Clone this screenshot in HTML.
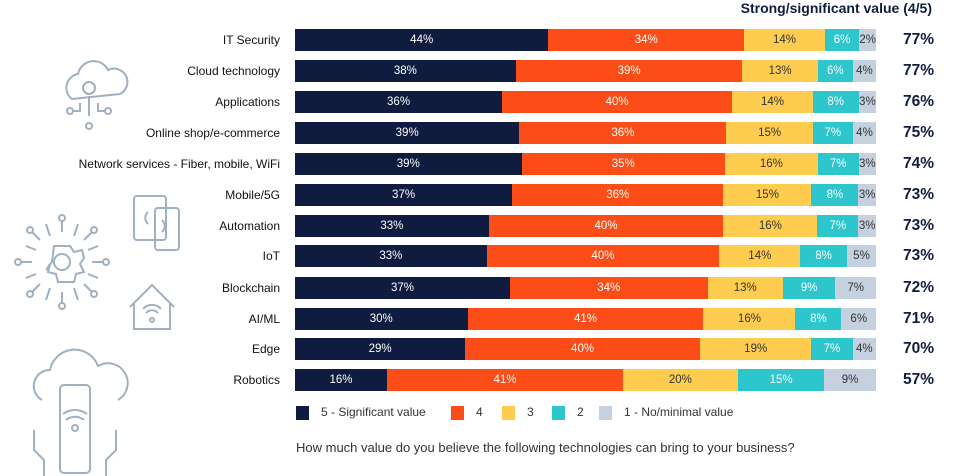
<!DOCTYPE html>
<html><head><meta charset="utf-8"><style>
body{margin:0;width:980px;height:476px;background:#fff;font-family:"Liberation Sans",sans-serif;position:relative;overflow:hidden}
.lbl{position:absolute;right:700px;font-size:12px;color:#111;text-align:right;white-space:nowrap}
.bar{position:absolute;left:295px;width:581px;height:22px;display:flex}
.bar div{height:22px;line-height:22px;text-align:center;font-size:11.5px;color:#fff;overflow:visible;white-space:nowrap}
.a{background:#0f1c3f}.b{background:#fc4c17}.c{background:#fecd4f;color:#333!important}.d{background:#2cc6cc}.e{background:#c5d1de;color:#333!important}
.tot{position:absolute;left:894px;width:40px;text-align:right;font-weight:bold;font-size:15.5px;color:#0f1c3f}
.lg{position:absolute;top:406px;width:13px;height:14px}
.lt{position:absolute;top:405px;font-size:12px;color:#333}
</style></head><body>
<div style="position:absolute;right:48px;top:0px;font-weight:bold;font-size:14px;color:#0f1c3f">Strong/significant value (4/5)</div>

<div class="lbl" style="top:33px">IT Security</div>
<div class="bar" style="top:29px"><div class="a" style="flex:44">44%</div><div class="b" style="flex:34">34%</div><div class="c" style="flex:14">14%</div><div class="d" style="flex:6">6%</div><div class="e" style="flex:2">2%</div></div>
<div class="tot" style="top:31px">77%</div>

<div class="lbl" style="top:64px">Cloud technology</div>
<div class="bar" style="top:60px"><div class="a" style="flex:38">38%</div><div class="b" style="flex:39">39%</div><div class="c" style="flex:13">13%</div><div class="d" style="flex:6">6%</div><div class="e" style="flex:4">4%</div></div>
<div class="tot" style="top:62px">77%</div>

<div class="lbl" style="top:95px">Applications</div>
<div class="bar" style="top:91px"><div class="a" style="flex:36">36%</div><div class="b" style="flex:40">40%</div><div class="c" style="flex:14">14%</div><div class="d" style="flex:8">8%</div><div class="e" style="flex:3">3%</div></div>
<div class="tot" style="top:93px">76%</div>

<div class="lbl" style="top:126px">Online shop/e-commerce</div>
<div class="bar" style="top:122px"><div class="a" style="flex:39">39%</div><div class="b" style="flex:36">36%</div><div class="c" style="flex:15">15%</div><div class="d" style="flex:7">7%</div><div class="e" style="flex:4">4%</div></div>
<div class="tot" style="top:124px">75%</div>

<div class="lbl" style="top:157px">Network services - Fiber, mobile, WiFi</div>
<div class="bar" style="top:153px"><div class="a" style="flex:39">39%</div><div class="b" style="flex:35">35%</div><div class="c" style="flex:16">16%</div><div class="d" style="flex:7">7%</div><div class="e" style="flex:3">3%</div></div>
<div class="tot" style="top:155px">74%</div>

<div class="lbl" style="top:188px">Mobile/5G</div>
<div class="bar" style="top:184px"><div class="a" style="flex:37">37%</div><div class="b" style="flex:36">36%</div><div class="c" style="flex:15">15%</div><div class="d" style="flex:8">8%</div><div class="e" style="flex:3">3%</div></div>
<div class="tot" style="top:186px">73%</div>

<div class="lbl" style="top:219px">Automation</div>
<div class="bar" style="top:215px"><div class="a" style="flex:33">33%</div><div class="b" style="flex:40">40%</div><div class="c" style="flex:16">16%</div><div class="d" style="flex:7">7%</div><div class="e" style="flex:3">3%</div></div>
<div class="tot" style="top:217px">73%</div>

<div class="lbl" style="top:249px">IoT</div>
<div class="bar" style="top:245px"><div class="a" style="flex:33">33%</div><div class="b" style="flex:40">40%</div><div class="c" style="flex:14">14%</div><div class="d" style="flex:8">8%</div><div class="e" style="flex:5">5%</div></div>
<div class="tot" style="top:247px">73%</div>

<div class="lbl" style="top:281px">Blockchain</div>
<div class="bar" style="top:277px"><div class="a" style="flex:37">37%</div><div class="b" style="flex:34">34%</div><div class="c" style="flex:13">13%</div><div class="d" style="flex:9">9%</div><div class="e" style="flex:7">7%</div></div>
<div class="tot" style="top:279px">72%</div>

<div class="lbl" style="top:312px">AI/ML</div>
<div class="bar" style="top:308px"><div class="a" style="flex:30">30%</div><div class="b" style="flex:41">41%</div><div class="c" style="flex:16">16%</div><div class="d" style="flex:8">8%</div><div class="e" style="flex:6">6%</div></div>
<div class="tot" style="top:310px">71%</div>

<div class="lbl" style="top:342px">Edge</div>
<div class="bar" style="top:338px"><div class="a" style="flex:29">29%</div><div class="b" style="flex:40">40%</div><div class="c" style="flex:19">19%</div><div class="d" style="flex:7">7%</div><div class="e" style="flex:4">4%</div></div>
<div class="tot" style="top:340px">70%</div>

<div class="lbl" style="top:373px">Robotics</div>
<div class="bar" style="top:369px"><div class="a" style="flex:16">16%</div><div class="b" style="flex:41">41%</div><div class="c" style="flex:20">20%</div><div class="d" style="flex:15">15%</div><div class="e" style="flex:9">9%</div></div>
<div class="tot" style="top:371px">57%</div>

<div class="lg a" style="left:296px"></div><div class="lt" style="left:321px">5 - Significant value</div>
<div class="lg b" style="left:451px"></div><div class="lt" style="left:476px">4</div>
<div class="lg c" style="left:502px"></div><div class="lt" style="left:527px">3</div>
<div class="lg d" style="left:552px"></div><div class="lt" style="left:577px">2</div>
<div class="lg e" style="left:599px"></div><div class="lt" style="left:624px">1 - No/minimal value</div>
<div style="position:absolute;left:296px;top:440px;font-size:13px;color:#333">How much value do you believe the following technologies can bring to your business?</div>

<svg width="200" height="476" style="position:absolute;left:0;top:0" fill="none" stroke="#9fb0c2" stroke-width="2">
<path d="M72 99 a14 14 0 0 1 6 -25 a16 16 0 0 1 30 -4 a13 13 0 0 1 12 24 z"/>
<circle cx="89" cy="88" r="6"/>
<path d="M80 103v8h-8M89 96v20M98 103v8h8"/>
<circle cx="70" cy="111" r="3"/><circle cx="89" cy="126" r="3"/><circle cx="108" cy="111" r="3"/>
<rect x="134" y="196" width="32" height="44" rx="3"/><rect x="155" y="208" width="24" height="42" rx="3"/>
<path d="M148 212 a8 8 0 0 0 0 12M162 220 a8 8 0 0 1 0 12"/>
<circle cx="62" cy="262" r="8"/><path d="M54 246h16l4 6 8 -2 2 8 -4 6 4 8 -8 2 -2 8h-16l-2 -8 -8 -2 2 -8 -4 6 6 -8z"/>
<path d="M62 232v-12M62 292v12M32 262h-12M92 262h12M40 240l-8 -8M84 240l8 -8M40 284l-8 8M84 284l8 8M50 236l-4 -12M74 236l4 -12M50 288l-4 12M74 288l4 12M36 250l-10 -4M88 250l10 -4M36 274l-10 4M88 274l10 4"/>
<circle cx="62" cy="218" r="3"/><circle cx="62" cy="306" r="3"/><circle cx="18" cy="262" r="3"/><circle cx="106" cy="262" r="3"/>
<circle cx="30" cy="230" r="3"/><circle cx="94" cy="230" r="3"/><circle cx="30" cy="294" r="3"/><circle cx="94" cy="294" r="3"/>
<path d="M130 307l22 -22 22 22M134 303v26h36v-26"/><circle cx="152" cy="320" r="2"/><path d="M146 313a8 8 0 0 1 12 0M143 309a12 12 0 0 1 18 0"/>
<path d="M42 400 a16 16 0 0 1 8 -30 a25 25 0 0 1 48 -4 a18 18 0 0 1 20 34"/>
<rect x="60" y="385" width="30" height="88" rx="4"/><path d="M66 420a14 14 0 0 1 18 0M63 414a20 20 0 0 1 24 0"/><circle cx="75" cy="428" r="3"/>
<path d="M34 430v20l10 10v16M116 430v20l-10 10v16"/>
</svg>
</body></html>
